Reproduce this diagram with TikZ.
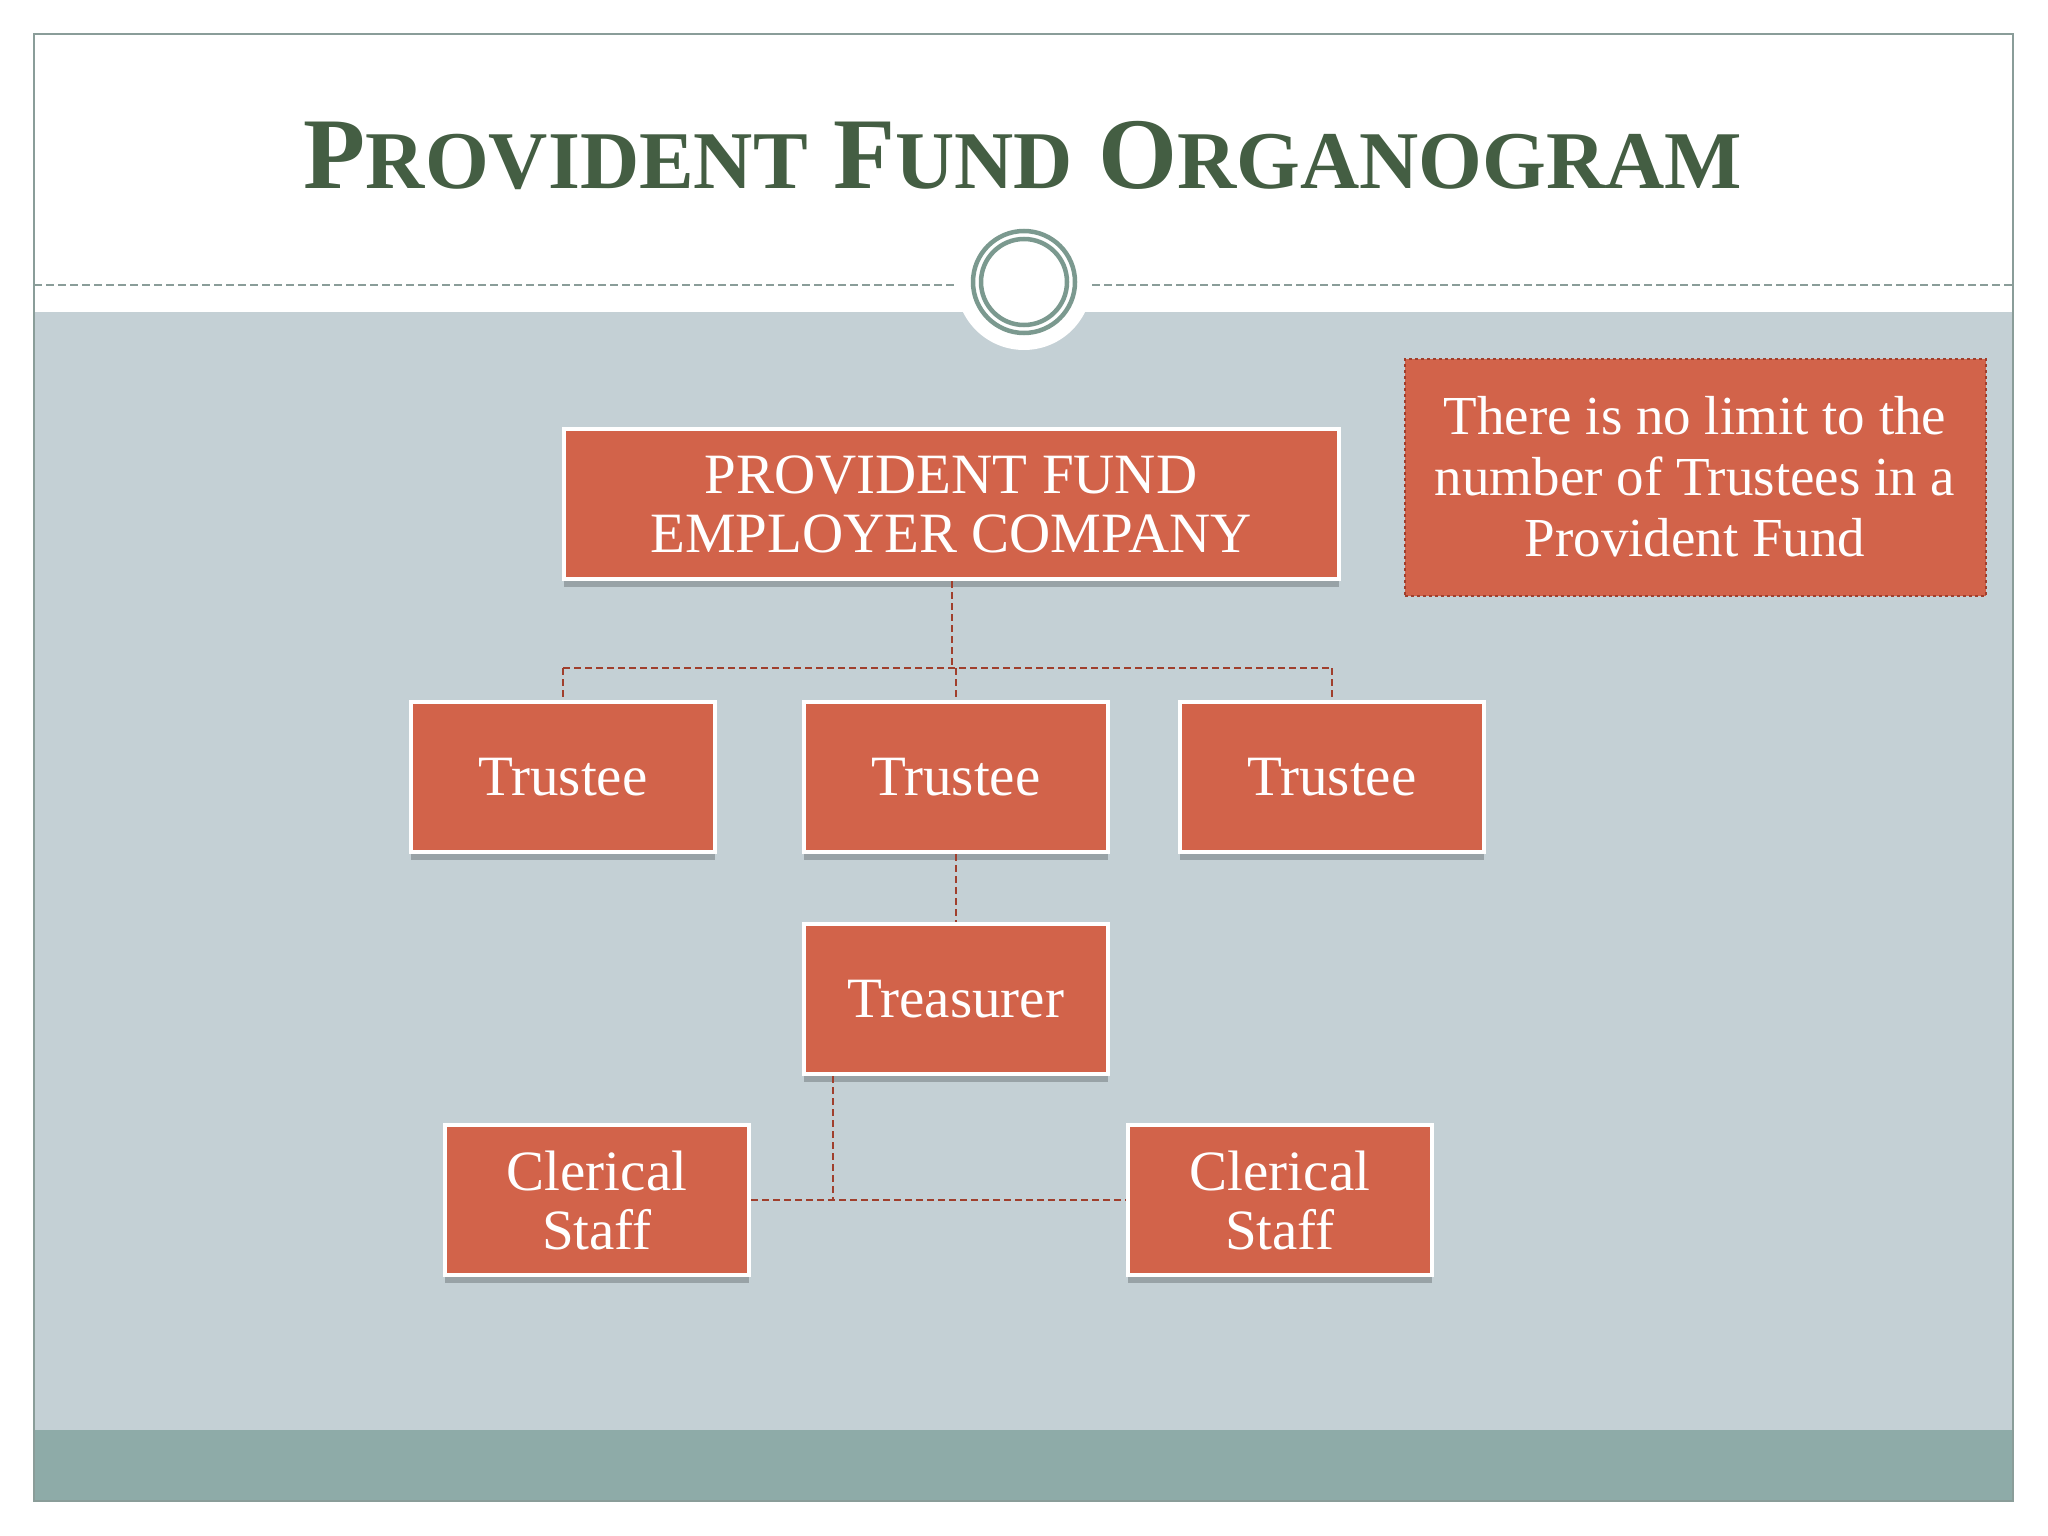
\documentclass[tikz,border=0pt]{standalone}
\usepackage{fontspec}
\setmainfont{Liberation Serif}
\usetikzlibrary{shadows}
\definecolor{bgblue}{HTML}{C4D0D5}
\definecolor{bandgreen}{HTML}{8EABA8}
\definecolor{framegrey}{HTML}{8A9D99}
\definecolor{ringgreen}{HTML}{7B998F}
\definecolor{titlegreen}{HTML}{445E43}
\definecolor{boxred}{HTML}{D2634A}
\definecolor{linkred}{HTML}{A03F2D}
\newcommand\myscap[2]{{\fontsize{101.5}{101.5}\selectfont #1}{\fontsize{82}{82}\selectfont #2}}
\tikzset{
  orgbox/.style={draw=white, line width=4pt, fill=boxred, text=white,
    minimum width=304pt, minimum height=150pt, align=center, inner sep=0pt,
    font=\fontsize{57}{59}\selectfont,
    drop shadow={shadow xshift=0pt, shadow yshift=-8pt, opacity=0.22, fill=black}},
  notebox/.style={draw=linkred, dashed, line width=2pt, fill=boxred, text=white,
    minimum width=581pt, minimum height=237pt, align=center, inner sep=0pt,
    font=\fontsize{55}{61}\selectfont},
  link/.style={draw=linkred, line width=2pt, dash pattern=on 7pt off 4pt},
}
\begin{document}
\begin{tikzpicture}[x=1pt, y=-1pt]
\useasboundingbox (0,0) rectangle (2048,1536);
\fill[white] (0,0) rectangle (2048,1536);
% slide body
\fill[bgblue] (34,34) rectangle (2013,1501);
\fill[white] (34,34) rectangle (2013,312);
\fill[white] (1024,282) circle (68);
\fill[bandgreen] (34,1430) rectangle (2013,1501);
\draw[framegrey, line width=2.5pt] (34,34) rectangle (2013,1501);
\draw[framegrey, line width=2pt, dash pattern=on 8pt off 4pt] (34,285) -- (956,285);
\draw[framegrey, line width=2pt, dash pattern=on 8pt off 4pt] (1092,285) -- (2013,285);
\draw[ringgreen, line width=4.5pt] (1024,282) circle (51);
\draw[ringgreen, line width=4.5pt] (1024,282) circle (43);
% title
\node[text=titlegreen, font=\fontsize{101.5}{101.5}\selectfont\bfseries, anchor=base, inner sep=0pt] (title) at (1023,189)
  {\myscap{P}{ROVIDENT} \myscap{F}{UND} \myscap{O}{RGANOGRAM}};
% boxes
\node[orgbox, minimum width=775pt] (emp) at (951,504) {PROVIDENT FUND\\EMPLOYER COMPANY};
\node[orgbox] (t1) at (563,777) {Trustee};
\node[orgbox] (t2) at (956,777) {Trustee};
\node[orgbox] (t3) at (1332,777) {Trustee};
\node[orgbox] (treas) at (956,999) {Treasurer};
\node[orgbox] (c1) at (597,1200) {Clerical\\Staff};
\node[orgbox] (c2) at (1280,1200) {Clerical\\Staff};
\node[notebox] (note) at (1695,477) {There is no limit to the\\number of Trustees in a\\Provident Fund};
% connectors
\coordinate (hub) at (952,668);
\coordinate (hubL) at (563,668);
\coordinate (hubR) at (1332,668);
\coordinate (hubM) at (956,668);
\coordinate (cj) at (833,1200);
\draw[link] (emp.south -| hub) -- (hub);
\draw[link] (hubL) -- (hubR);
\draw[link] (hubL) -- (t1.north);
\draw[link] (hubM) -- (t2.north);
\draw[link] (hubR) -- (t3.north);
\draw[link] (t2.south) -- (treas.north);
\draw[link] (treas.south -| cj) -- (cj);
\draw[link] (c1.east) -- (c2.west);
\end{tikzpicture}
\end{document}
